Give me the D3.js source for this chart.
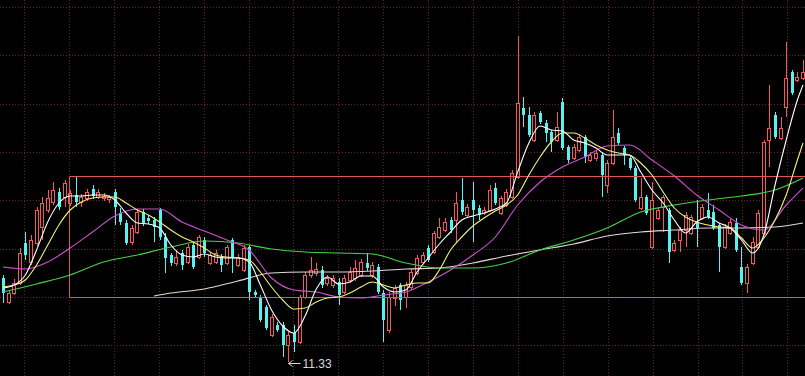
<!DOCTYPE html>
<html>
<head>
<meta charset="utf-8">
<script src="https://cdn.jsdelivr.net/npm/d3@7"></script>
<style>
html, body { margin: 0; padding: 0; background: #000; }
svg { display: block; }
</style>
</head>
<body>
<div id="chart"></div>
<script>
// daily bars, oldest first
const openPrices = [
    13.01, 12.53, 12.71, 12.91, 13.71, 13.33, 13.71, 14.03, 14.37, 14.53,
    14.73, 14.63, 14.51, 14.67, 14.53, 14.61, 14.79, 14.63, 14.61, 14.59,
    14.73, 14.31, 14.11, 13.73, 13.93, 14.33, 14.21, 14.17, 14.37, 13.83,
    13.47, 13.31, 13.51, 13.33, 13.67, 13.43, 13.77, 13.31, 13.33, 13.43,
    13.31, 13.77, 13.27, 13.17, 13.63, 12.73, 12.63, 12.43, 11.87, 12.07,
    12.07, 11.67, 11.91, 11.73, 12.63, 13.07, 13.11, 13.17, 12.91, 12.87,
    12.93, 12.73, 12.97, 13.01, 13.07, 13.31, 13.07, 13.23, 12.71, 11.97,
    12.61, 12.87, 12.63, 12.83, 13.11, 13.33, 13.61, 13.53, 13.83, 13.97,
    14.17, 14.17, 14.57, 14.27, 14.57, 14.41, 14.31, 14.37, 14.81, 14.31,
    14.47, 14.63, 15.03, 16.41, 16.27, 15.77, 16.31, 16.11, 15.93, 15.77,
    16.53, 15.63, 15.41, 15.57, 15.83, 15.37, 15.41, 15.47, 14.87, 15.31,
    15.91, 15.61, 15.41, 15.21, 14.41, 14.63, 13.63, 14.21, 14.43, 14.37,
    13.57, 13.77, 13.97, 13.91, 14.11, 14.21, 14.37, 14.33, 14.07, 13.63,
    13.91, 14.11, 13.23, 12.91, 13.31, 13.63, 13.91, 15.77, 16.27, 15.81,
    16.43, 17.13, 16.97, 17.01
];
const highPrices = [
    13.07, 12.77, 12.99, 13.61, 13.93, 13.87, 14.43, 14.63, 14.77, 14.93,
    14.81, 14.97, 14.77, 15.03, 14.69, 14.79, 14.87, 14.79, 14.71, 14.67,
    14.79, 14.41, 14.17, 14.07, 14.39, 14.39, 14.27, 14.23, 14.41, 13.91,
    13.51, 13.57, 13.57, 13.69, 13.73, 13.87, 13.83, 13.53, 13.57, 13.49,
    13.67, 13.81, 13.49, 13.67, 13.67, 12.77, 12.67, 12.47, 12.29, 12.13,
    12.13, 11.93, 12.07, 12.67, 13.13, 13.43, 13.31, 13.25, 13.07, 13.07,
    13.01, 13.07, 13.23, 13.37, 13.39, 13.51, 13.33, 13.29, 12.77, 12.73,
    12.87, 12.91, 12.93, 13.19, 13.47, 13.53, 13.67, 13.95, 14.21, 14.21,
    14.23, 14.73, 15.01, 14.49, 14.93, 14.47, 14.43, 14.87, 14.91, 14.65,
    14.79, 15.17, 17.85, 16.63, 16.43, 16.33, 16.35, 16.17, 15.97, 16.33,
    16.61, 15.67, 15.69, 15.89, 15.87, 15.53, 15.57, 15.53, 15.37, 16.37,
    16.01, 15.65, 15.45, 15.25, 15.01, 14.67, 14.93, 14.43, 14.67, 14.41,
    13.77, 14.03, 14.33, 14.27, 14.57, 14.49, 14.71, 14.47, 14.11, 14.09,
    14.19, 14.21, 13.63, 13.29, 13.83, 14.37, 15.77, 16.87, 16.33, 16.23,
    17.73, 17.17, 17.13, 17.37
];
const lowPrices = [
    12.51, 12.49, 12.67, 12.87, 13.37, 13.27, 13.65, 13.77, 14.31, 14.47,
    14.37, 14.43, 14.45, 14.43, 14.43, 14.55, 14.59, 14.59, 14.55, 14.51,
    14.07, 14.07, 13.67, 13.67, 13.89, 14.05, 14.09, 13.73, 13.77, 13.11,
    13.25, 13.25, 13.17, 13.29, 13.19, 13.39, 13.43, 13.27, 13.29, 13.13,
    13.27, 13.11, 13.23, 13.13, 12.57, 12.63, 12.13, 11.97, 11.83, 11.93,
    11.43, 11.33, 11.53, 11.69, 12.59, 13.01, 13.05, 12.81, 12.85, 12.81,
    12.47, 12.69, 12.91, 12.95, 13.03, 13.15, 13.01, 12.69, 11.73, 11.91,
    12.45, 12.37, 12.41, 12.77, 13.07, 13.29, 13.33, 13.49, 13.79, 13.93,
    13.91, 13.73, 14.27, 14.23, 13.73, 14.17, 14.27, 14.33, 14.47, 14.27,
    14.43, 14.59, 14.99, 16.03, 15.83, 15.73, 16.09, 15.73, 15.53, 15.73,
    15.57, 15.31, 15.37, 15.53, 15.31, 15.33, 15.35, 14.63, 14.71, 15.27,
    15.67, 15.27, 15.17, 14.53, 14.37, 14.27, 13.59, 14.17, 13.93, 13.31,
    13.53, 13.53, 13.63, 13.87, 13.63, 14.17, 14.19, 13.97, 13.13, 13.59,
    13.87, 13.53, 12.87, 12.71, 13.27, 13.59, 13.87, 15.23, 15.79, 15.77,
    16.23, 16.67, 16.93, 16.97
];
const closePrices = [
    12.71, 12.71, 12.91, 13.51, 13.47, 13.77, 14.37, 14.51, 14.61, 14.77,
    14.43, 14.91, 14.71, 14.53, 14.63, 14.73, 14.65, 14.73, 14.65, 14.63,
    14.43, 14.13, 13.71, 14.01, 14.33, 14.11, 14.15, 14.03, 13.83, 13.41,
    13.31, 13.43, 13.27, 13.63, 13.23, 13.83, 13.51, 13.47, 13.51, 13.27,
    13.63, 13.41, 13.43, 13.61, 12.73, 12.67, 12.17, 12.01, 12.23, 11.97,
    11.67, 11.87, 11.73, 12.63, 13.07, 13.17, 13.19, 12.87, 13.01, 13.01,
    12.67, 13.01, 13.13, 13.21, 13.33, 13.21, 13.27, 12.73, 12.17, 12.63,
    12.81, 12.57, 12.87, 13.13, 13.41, 13.47, 13.37, 13.91, 14.03, 14.13,
    13.97, 14.51, 14.33, 14.43, 14.37, 14.27, 14.37, 14.77, 14.51, 14.61,
    14.73, 15.11, 16.51, 16.27, 15.87, 16.27, 16.13, 15.91, 15.73, 16.03,
    15.61, 15.37, 15.63, 15.83, 15.43, 15.47, 15.51, 15.07, 15.31, 15.83,
    15.71, 15.47, 15.21, 14.57, 14.63, 14.31, 14.57, 14.37, 14.63, 13.53,
    13.71, 13.97, 14.27, 14.23, 14.01, 14.43, 14.23, 14.01, 13.63, 14.03,
    14.13, 13.57, 12.91, 13.23, 13.73, 14.31, 15.73, 16.01, 15.83, 16.01,
    17.01, 16.71, 17.03, 17.13
];

// moving averages, one value every `step` bars (last value = last bar)
const ma5Step = 2;
const ma5 = [
    12.81, 12.87, 13.07, 13.57, 14.13, 14.51, 14.65, 14.65, 14.67, 14.67,
    14.57, 14.31, 14.11, 14.09, 14.01, 13.67, 13.47, 13.43, 13.49, 13.43,
    13.41, 13.41, 13.33, 12.87, 12.37, 12.05, 11.91, 12.25, 12.79, 13.03,
    12.89, 12.93, 13.05, 13.05, 12.83, 12.73, 12.77, 13.13, 13.41, 13.69,
    13.93, 14.17, 14.25, 14.31, 14.39, 14.51, 15.13, 15.71, 16.05, 15.97,
    15.95, 15.77, 15.71, 15.61, 15.47, 15.47, 15.47, 15.13, 14.77, 14.51,
    14.17, 13.91, 14.13, 14.23, 14.11, 14.01, 13.77, 13.51, 13.87, 14.87,
    15.77, 16.57, 16.87
];
const ma10Step = 2;
const ma10 = [
    12.83, 12.87, 12.97, 13.27, 13.67, 14.07, 14.37, 14.53, 14.61, 14.63,
    14.63, 14.51, 14.37, 14.27, 14.13, 13.97, 13.83, 13.73, 13.61, 13.47,
    13.43, 13.41, 13.37, 13.13, 12.83, 12.57, 12.39, 12.41, 12.53, 12.61,
    12.63, 12.71, 12.83, 12.93, 12.87, 12.81, 12.87, 12.91, 12.91, 13.17,
    13.57, 13.83, 14.05, 14.21, 14.35, 14.47, 14.67, 15.07, 15.43, 15.73,
    15.91, 15.91, 15.81, 15.67, 15.57, 15.51, 15.47, 15.31, 15.07, 14.73,
    14.41, 14.23, 14.13, 14.07, 14.03, 14.01, 13.81, 13.61, 13.81, 14.17,
    14.67, 15.37, 15.71
];
const ma20Step = 4;
const ma20 = [
    13.23, 13.19, 13.33, 13.61, 13.93, 14.25, 14.39, 14.39, 14.13, 13.95,
    13.77, 13.57, 13.01, 12.77, 12.73, 12.63, 12.61, 12.67, 12.73, 12.93,
    13.17, 13.47, 13.83, 14.47, 14.93, 15.23, 15.43, 15.65, 15.67, 15.37,
    15.05, 14.67, 14.37, 14.07, 13.97, 14.47, 14.81
];
const ma60Step = 6;
const ma60 = [
    12.73, 12.89, 13.07, 13.33, 13.47, 13.63, 13.75, 13.71, 13.59, 13.53,
    13.51, 13.49, 13.31, 13.21, 13.21, 13.31, 13.57, 13.77, 14.01, 14.33,
    14.47, 14.57, 14.65, 14.77, 15.01
];
// the long average only starts part way in
const ma120Idx = [27, 30, 36, 42, 48, 54, 60, 66, 72, 78, 84, 90, 96, 102, 108, 114, 120, 126, 132, 138, 143];
const ma120 = [
    12.65, 12.71, 12.79, 12.95, 13.11, 13.13, 13.13, 13.15, 13.19, 13.21,
    13.31, 13.45, 13.57, 13.69, 13.85, 13.93, 13.97, 14.01, 14.01, 14.03,
    14.11
];

// price band box and lowest low marker
const boxStartIdx = 12;
const boxTop = 15.05;
const boxBottom = 12.63;
const lowLabel = "11.33";

const width = 805, height = 376;
const upColor = "#f25a5a";
const downColor = "#56f2f2";
const boxColor = "#e05454";

const svg = d3.select("#chart").append("svg")
    .attr("width", width)
    .attr("height", height)
    .style("background", "#000");

const lastIdx = openPrices.length - 1;
const x = d3.scaleLinear().domain([0, lastIdx]).range([3, 803]);
const y = d3.scaleLinear().domain([11.05, 18.57]).range([height, 0]);
const crisp = v => Math.round(v) + 0.5;

// dotted grid
const grid = svg.append("g").attr("stroke", "#6a1e1e").attr("stroke-dasharray", "1,2");
grid.selectAll("line.v")
    .data(d3.range(24, width, 44.9))
    .enter().append("line")
    .attr("class", "v")
    .attr("x1", d => crisp(d)).attr("x2", d => crisp(d))
    .attr("y1", 0).attr("y2", height);
grid.selectAll("line.h")
    .data(d3.range(7, height, 48.3))
    .enter().append("line")
    .attr("class", "h")
    .attr("x1", 0).attr("x2", width)
    .attr("y1", d => crisp(d)).attr("y2", d => crisp(d));

// candles
const bars = d3.range(openPrices.length).map(i => ({
    i,
    o: openPrices[i],
    h: highPrices[i],
    l: lowPrices[i],
    c: closePrices[i],
    up: closePrices[i] >= openPrices[i]
}));

const candle = svg.append("g").selectAll("g")
    .data(bars)
    .enter().append("g");

candle.each(function (d) {
    const g = d3.select(this);
    const px = Math.round(x(d.i));
    const top = Math.round(y(Math.max(d.o, d.c)));
    const bot = Math.round(y(Math.min(d.o, d.c)));
    const hi = Math.round(y(d.h));
    const lo = Math.round(y(d.l));
    const color = d.up ? upColor : downColor;

    if (d.up) {
        // hollow body, wick stops at the body
        g.append("line")
            .attr("x1", px + 0.5).attr("x2", px + 0.5)
            .attr("y1", hi).attr("y2", top)
            .attr("stroke", color);
        g.append("line")
            .attr("x1", px + 0.5).attr("x2", px + 0.5)
            .attr("y1", bot).attr("y2", lo)
            .attr("stroke", color);
        g.append("rect")
            .attr("x", px - 1.5)
            .attr("y", top + 0.5)
            .attr("width", 3)
            .attr("height", Math.max(bot - top, 1))
            .attr("fill", "#000")
            .attr("stroke", color);
    } else {
        g.append("line")
            .attr("x1", px + 0.5).attr("x2", px + 0.5)
            .attr("y1", hi).attr("y2", lo)
            .attr("stroke", color);
        g.append("rect")
            .attr("x", px - 1)
            .attr("y", top)
            .attr("width", 3)
            .attr("height", Math.max(bot - top, 1))
            .attr("fill", color);
    }
});

// box, drawn as three edges running off the right side
const bx = crisp(x(boxStartIdx)) - 1;
const by0 = crisp(y(boxTop));
const by1 = crisp(y(boxBottom));
svg.append("path")
    .attr("d", `M${width},${by0}H${bx}V${by1}H${width}`)
    .attr("fill", "none")
    .attr("stroke", boxColor)
    .attr("stroke-width", 1);

// moving averages
const stepped = (values, step) => values.map((v, k) => [Math.min(k * step, lastIdx), v]);
const averages = [
    { pts: ma120.map((v, k) => [ma120Idx[k], v]), color: "#e6d8d8" },
    { pts: stepped(ma60, ma60Step), color: "#48d048" },
    { pts: stepped(ma20, ma20Step), color: "#d050d0" },
    { pts: stepped(ma10, ma10Step), color: "#f2f27a" },
    { pts: stepped(ma5, ma5Step), color: "#ffffff" }
];

const line = d3.line()
    .x(d => x(d[0]))
    .y(d => y(d[1]))
    .curve(d3.curveMonotoneX);

svg.append("g").selectAll("path")
    .data(averages)
    .enter().append("path")
    .attr("d", d => line(d.pts))
    .attr("fill", "none")
    .attr("stroke", d => d.color)
    .attr("stroke-width", 1.1);

// lowest low marker
const lowIdx = d3.minIndex(lowPrices);
const lx = Math.round(x(lowIdx)) + 0.5;
const ly = Math.round(y(lowPrices[lowIdx])) + 1.5;
svg.append("path")
    .attr("d", `M${lx},${ly}H${lx + 12}M${lx},${ly}l4,-3M${lx},${ly}l4,3`)
    .attr("fill", "none")
    .attr("stroke", "#d8d8d8");
svg.append("text")
    .attr("x", lx + 14)
    .attr("y", ly + 4.5)
    .attr("fill", "#d8d8d8")
    .style("font", "12px 'Liberation Sans', Arial, sans-serif")
    .text(lowLabel);
</script>
</body>
</html>
